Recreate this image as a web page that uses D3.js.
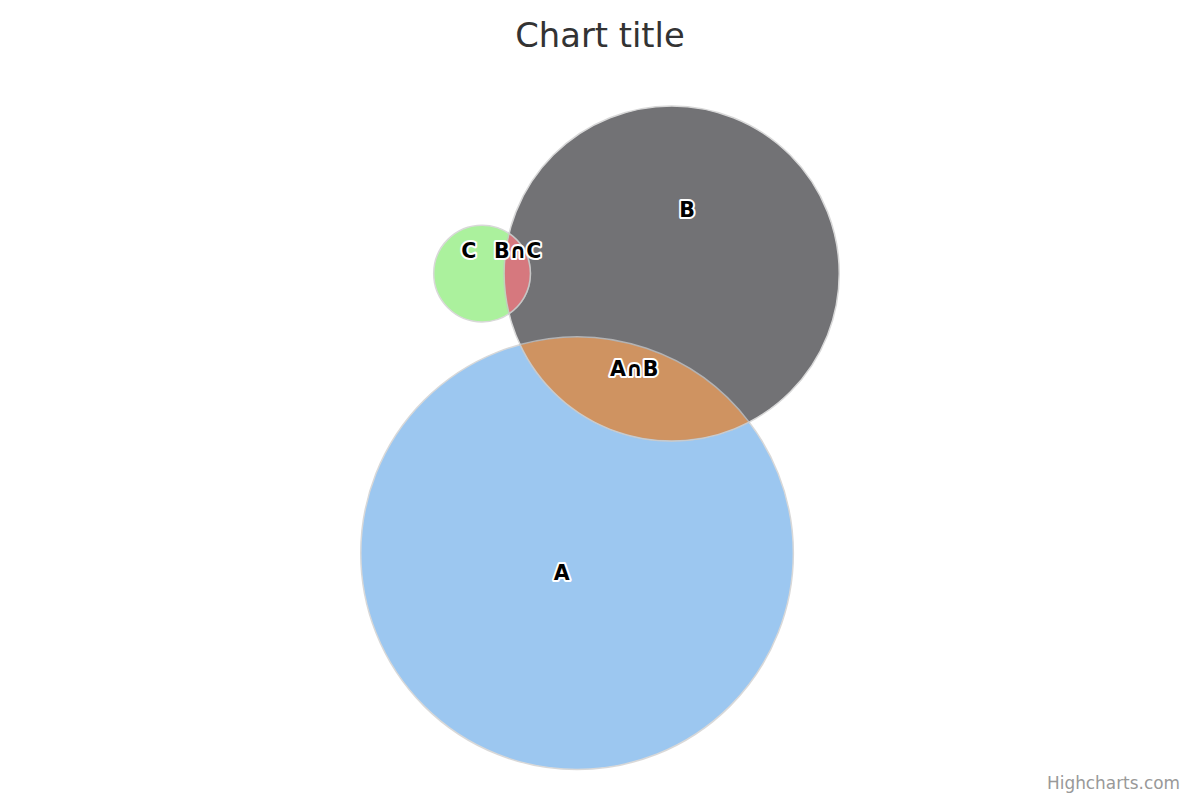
<!DOCTYPE html>
<html><head><meta charset="UTF-8">
<script src="https://cdn.jsdelivr.net/npm/d3@7"></script>
<style>
  body {
    margin: 0;
    background: #ffffff;
    font-family: "Lucida Grande", "Lucida Sans Unicode", "DejaVu Sans", Arial, sans-serif;
  }
</style>
</head>
<body>
<svg id="VennChart"></svg>
<script>
  // set sizes and pairwise overlaps
  var setNames = ["A", "B", "C"];
  var setValues = [100, 60, 5];
  var pairSets = [["A", "B"], ["A", "C"], ["B", "C"]];
  var pairValues = [10, 0, 1];

  var palette = ["#7cb5ec", "#434348", "#90ed7d", "#f7a35c", "#8085e9", "#f15c80"];

  var width = 1200,
      height = 800;
  var plot = {top: 106, bottom: 769.5, left: 10, right: 1190};
  // direction each circle is laid out from an already placed one (degrees)
  var placement = [
    {set: "B", from: "A", angle: -71.3},
    {set: "C", from: "B", angle: 180}
  ];
  var labelLift = 22;

  var svg = d3.select("#VennChart")
    .attr("width", width)
    .attr("height", height);

  // ---- geometry helpers
  function segment(r, a) {
    return r * r * Math.acos(a / r) - a * Math.sqrt(r * r - a * a);
  }
  function lensArea(r1, r2, d) {
    if (d >= r1 + r2) return 0;
    if (d <= Math.abs(r1 - r2)) return Math.PI * Math.pow(Math.min(r1, r2), 2);
    var a = (d * d + r1 * r1 - r2 * r2) / (2 * d);
    return segment(r1, a) + segment(r2, d - a);
  }
  // distance between centres giving the wanted overlap area
  function distanceFor(r1, r2, overlap) {
    if (overlap <= 0) return r1 + r2;
    var lo = Math.abs(r1 - r2), hi = r1 + r2;
    for (var i = 0; i < 100; i++) {
      var mid = (lo + hi) / 2;
      if (lensArea(r1, r2, mid) > overlap) lo = mid; else hi = mid;
    }
    return (lo + hi) / 2;
  }
  function pairValue(s1, s2) {
    for (var i = 0; i < pairSets.length; i++) {
      var p = pairSets[i];
      if ((p[0] === s1 && p[1] === s2) || (p[0] === s2 && p[1] === s1)) return pairValues[i];
    }
    return 0;
  }

  // ---- layout in value units (circle area = value)
  var circles = {};
  setNames.forEach(function (s, i) {
    circles[s] = {x: 0, y: 0, r: Math.sqrt(setValues[i] / Math.PI)};
  });
  placement.forEach(function (p) {
    var c = circles[p.set], f = circles[p.from];
    var d = distanceFor(c.r, f.r, pairValue(p.set, p.from));
    var t = p.angle * Math.PI / 180;
    c.x = f.x + d * Math.cos(t);
    c.y = f.y + d * Math.sin(t);
  });

  // ---- fit to the plot area with linear scales
  var xMin = d3.min(setNames, function (s) { return circles[s].x - circles[s].r; }),
      xMax = d3.max(setNames, function (s) { return circles[s].x + circles[s].r; }),
      yMin = d3.min(setNames, function (s) { return circles[s].y - circles[s].r; }),
      yMax = d3.max(setNames, function (s) { return circles[s].y + circles[s].r; });
  var k = Math.min((plot.right - plot.left) / (xMax - xMin), (plot.bottom - plot.top) / (yMax - yMin));
  var cx = (plot.left + plot.right) / 2,
      cy = (plot.top + plot.bottom) / 2;
  var xScale = d3.scaleLinear()
    .domain([xMin, xMax])
    .range([cx - k * (xMax - xMin) / 2, cx + k * (xMax - xMin) / 2]);
  var yScale = d3.scaleLinear()
    .domain([yMin, yMax])
    .range([cy - k * (yMax - yMin) / 2, cy + k * (yMax - yMin) / 2]);
  var rScale = d3.scaleLinear().domain([0, 1]).range([0, k]);

  var px = {};
  setNames.forEach(function (s) {
    px[s] = {x: xScale(circles[s].x), y: yScale(circles[s].y), r: rScale(circles[s].r)};
  });

  // ---- lens path between two pixel circles
  function arcFlags(c, from, to, through) {
    var tau = 2 * Math.PI;
    var a0 = Math.atan2(from[1] - c.y, from[0] - c.x),
        a1 = Math.atan2(to[1] - c.y, to[0] - c.x),
        aq = Math.atan2(through[1] - c.y, through[0] - c.x);
    var span = ((a1 - a0) % tau + tau) % tau,
        toQ = ((aq - a0) % tau + tau) % tau;
    if (toQ < span) return {large: span > Math.PI ? 1 : 0, sweep: 1};
    return {large: (tau - span) > Math.PI ? 1 : 0, sweep: 0};
  }
  function lensPath(c1, c2) {
    var dx = c2.x - c1.x, dy = c2.y - c1.y, d = Math.sqrt(dx * dx + dy * dy);
    var ux = dx / d, uy = dy / d;
    var a = (d * d + c1.r * c1.r - c2.r * c2.r) / (2 * d);
    var h = Math.sqrt(c1.r * c1.r - a * a);
    var mx = c1.x + a * ux, my = c1.y + a * uy;
    var p1 = [mx - h * uy, my + h * ux],
        p2 = [mx + h * uy, my - h * ux];
    var f1 = arcFlags(c1, p1, p2, [c1.x + c1.r * ux, c1.y + c1.r * uy]);
    var f2 = arcFlags(c2, p2, p1, [c2.x - c2.r * ux, c2.y - c2.r * uy]);
    return "M" + p1 + "A" + c1.r + "," + c1.r + " 0 " + f1.large + " " + f1.sweep + " " + p2 +
      "A" + c2.r + "," + c2.r + " 0 " + f2.large + " " + f2.sweep + " " + p1 + "Z";
  }

  // ---- label spot: point of the region furthest from its borders
  function labelSpot(inside) {
    var outside = setNames.filter(function (s) { return inside.indexOf(s) < 0; });
    var small = inside.map(function (s) { return px[s]; })
      .sort(function (a, b) { return a.r - b.r; })[0];
    var best = {x: small.x, y: small.y, m: -Infinity};
    for (var x = small.x - small.r; x <= small.x + small.r; x += 1) {
      for (var y = small.y - small.r; y <= small.y + small.r; y += 1) {
        var m = Infinity;
        inside.forEach(function (s) {
          var c = px[s];
          m = Math.min(m, c.r - Math.hypot(x - c.x, y - c.y));
        });
        outside.forEach(function (s) {
          var c = px[s];
          m = Math.min(m, Math.hypot(x - c.x, y - c.y) - c.r);
        });
        if (m > best.m) best = {x: x, y: y, m: m};
      }
    }
    return best;
  }

  // ---- circles
  var shapes = svg.append("g");
  shapes.selectAll("circle")
    .data(setNames)
    .enter().append("circle")
    .attr("cx", function (s) { return px[s].x; })
    .attr("cy", function (s) { return px[s].y; })
    .attr("r", function (s) { return px[s].r; })
    .attr("fill", function (s, i) { return palette[i]; })
    .attr("stroke", "#cccccc")
    .attr("stroke-width", 1.5)
    .attr("opacity", 0.75);

  // ---- overlaps
  var pairs = pairSets.map(function (p, i) {
    return {sets: p, value: pairValues[i], color: palette[setNames.length + i]};
  }).filter(function (d) { return d.value > 0; });

  shapes.selectAll("path")
    .data(pairs)
    .enter().append("path")
    .attr("d", function (d) { return lensPath(px[d.sets[0]], px[d.sets[1]]); })
    .attr("fill", function (d) { return d.color; })
    .attr("stroke", "#cccccc")
    .attr("stroke-width", 1.5)
    .attr("opacity", 0.75);

  // ---- labels
  var labels = setNames.map(function (s) { return [s]; })
    .concat(pairs.map(function (d) { return d.sets; }))
    .map(function (sets) {
      var p = labelSpot(sets);
      return {text: sets.join("∩"), x: p.x, y: p.y};
    });

  svg.append("g").selectAll("text")
    .data(labels)
    .enter().append("text")
    .attr("x", function (d) { return d.x; })
    .attr("y", function (d) { return d.y - labelLift; })
    .attr("text-anchor", "middle")
    .attr("dominant-baseline", "central")
    .attr("font-size", "20.6px")
    .attr("font-weight", "bold")
    .attr("fill", "#000000")
    .attr("stroke", "#ffffff")
    .attr("stroke-width", 4)
    .attr("stroke-linejoin", "round")
    .attr("paint-order", "stroke")
    .text(function (d) { return d.text; });

  // ---- title and credits
  svg.append("text")
    .attr("x", width / 2)
    .attr("y", 47)
    .attr("text-anchor", "middle")
    .attr("font-size", "33.75px")
    .attr("fill", "#333333")
    .text("Chart title");

  svg.append("text")
    .attr("x", width - 20)
    .attr("y", 789)
    .attr("text-anchor", "end")
    .attr("font-size", "16.9px")
    .attr("fill", "#999999")
    .text("Highcharts.com");
</script>
</body></html>
